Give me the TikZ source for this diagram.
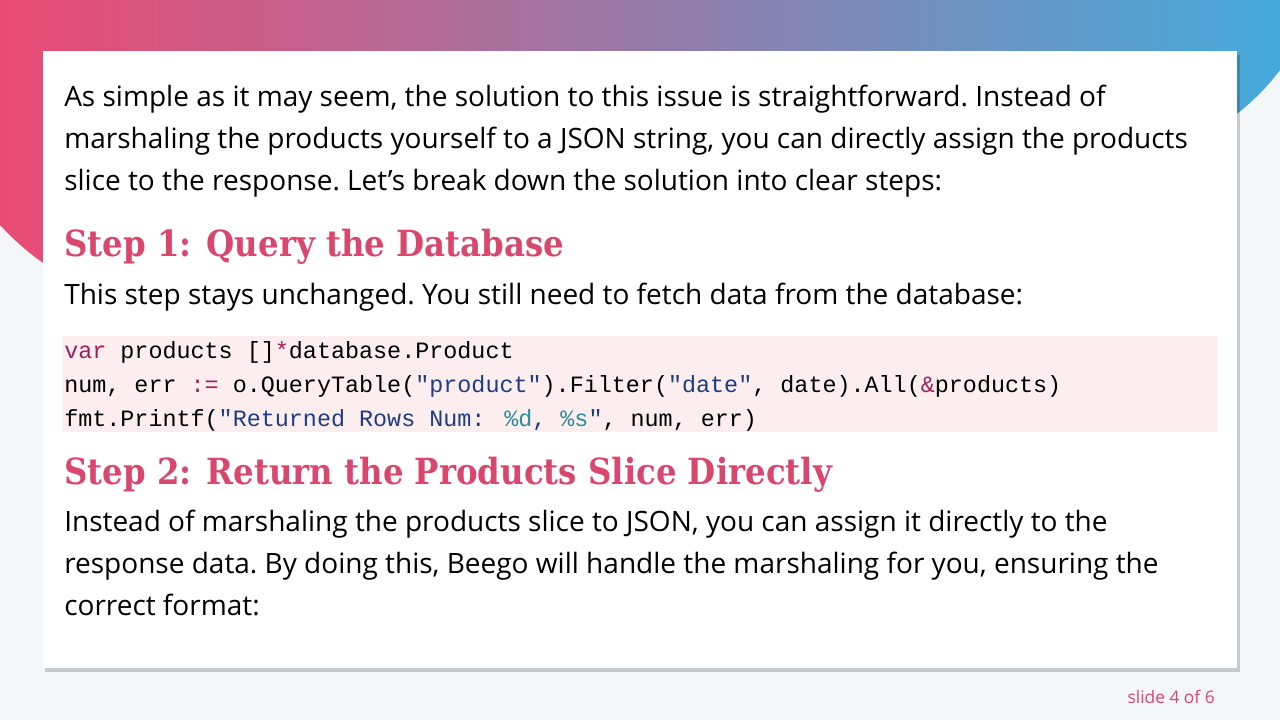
\documentclass[tikz,border=0pt]{standalone}
\usepackage{fontspec}
\setmainfont{Open Sans}
\newfontfamily\headfont{DejaVu Serif Condensed}
\newfontfamily\codefont{Liberation Mono}
\definecolor{pinkA}{HTML}{EA4B73}
\definecolor{blueA}{HTML}{45AADB}
\definecolor{headc}{HTML}{D9466E}
\definecolor{bgc}{HTML}{F4F7F9}
\definecolor{codebg}{HTML}{FCEEEF}
\definecolor{kw}{HTML}{A0205A}
\definecolor{str}{HTML}{1E3C82}
\definecolor{fmtc}{HTML}{2A8C9C}
\tikzset{body/.style={anchor=base west,inner sep=0,font=\frenchspacing\fontsize{21}{24}\selectfont},
 head/.style={anchor=base west,inner sep=0,text=headc,font=\headfont\bfseries\fontsize{27}{30}\selectfont},
 code/.style={anchor=base west,inner sep=0,font=\codefont\fontsize{17.55}{22}\selectfont}}
\begin{document}
\begin{tikzpicture}[x=0.75pt,y=-0.75pt]
\useasboundingbox (0,0) rectangle (1280,720);
\fill[bgc] (0,0) rectangle (1280,720);
\shade[left color=pinkA,right color=blueA] (0,0) -- (1280,0) -- (1280,70) .. controls (1250,110) and (1200,150) .. (1100,180) -- (300,300) .. controls (150,330) and (60,290) .. (0,225) -- cycle;
\fill[black,opacity=0.18] (45,55) rectangle (1240,672);
\fill[white] (43,51) rectangle (1237,668);
\node[body] (p1) at (64,107) {As simple as it may seem, the solution to this issue is straightforward. Instead of};
\node[body] (p2) at (64,149) {marshaling the products yourself to a JSON string, you can directly assign the products};
\node[body] (p3) at (64,191) {slice to the response. Let’s break down the solution into clear steps:};
\node[head] (h1) at (64,256) {Step 1: Query the Database};
\node[body] (p4) at (64,304) {This step stays unchanged. You still need to fetch data from the database:};
\fill[codebg] (62,336) rectangle (1218,432);
\node[code] (c1) at (64,358) {\textcolor{kw}{var} products []\textcolor{kw}{*}database.Product};
\node[code] (c2) at (64,392) {num, err \textcolor{kw}{:=} o.QueryTable(\textcolor{str}{"product"}).Filter(\textcolor{str}{"date"}, date).All(\textcolor{kw}{\&}products)};
\node[code] (c3) at (64,426) {fmt.Printf(\textcolor{str}{"Returned Rows Num: }\textcolor{fmtc}{\%d}\textcolor{str}{, }\textcolor{fmtc}{\%s}\textcolor{str}{"}, num, err)};
\node[head] (h2) at (64,484) {Step 2: Return the Products Slice Directly};
\node[body] (p5) at (64,531) {Instead of marshaling the products slice to JSON, you can assign it directly to the};
\node[body] (p6) at (64,573) {response data. By doing this, Beego will handle the marshaling for you, ensuring the};
\node[body] (p7) at (64,615) {correct format:};
\node[anchor=base east,inner sep=0,text=headc,font=\fontsize{13}{15}\selectfont] (sl) at (1215,703) {slide 4 of 6};
\end{tikzpicture}
\end{document}
